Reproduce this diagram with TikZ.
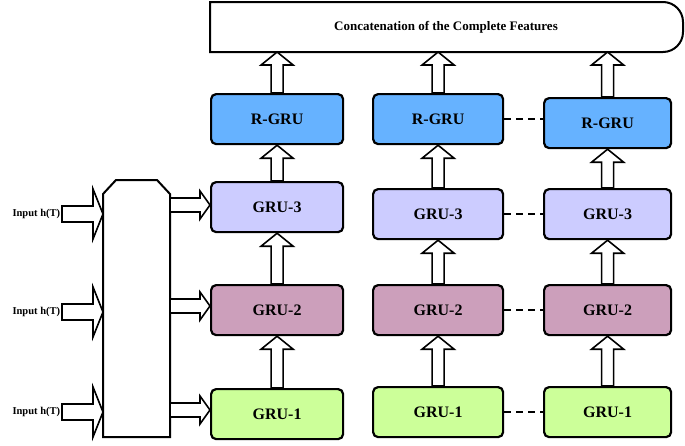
\documentclass[tikz,border=0pt]{standalone}
\usepackage{fontspec}
\setmainfont{Liberation Serif}
\usetikzlibrary{calc}
\definecolor{rg}{HTML}{66B2FF}
\definecolor{g3}{HTML}{CCCCFF}
\definecolor{g2}{HTML}{CC9FBB}
\definecolor{g1}{HTML}{CCFF99}
\begin{document}
\begin{tikzpicture}[x=1pt,y=-1pt,line width=1.8pt,
  box/.style={draw,line width=2.2pt,rounded corners=5pt,font=\bfseries\fontsize{16}{18}\selectfont},
  dsh/.style={dash pattern=on 7pt off 5pt,line width=2.4pt},
  barrow/.style={draw,fill=white,line width=1.6pt,line join=miter}]
\useasboundingbox (0,0) rectangle (685,445);
% top box
\draw[line width=2pt] (210,2) -- (663,2) arc[start angle=90,end angle=0,radius=20pt] -- (683,32) arc[start angle=0,end angle=-90,radius=20pt] -- (210,52) -- cycle;
\node[font=\bfseries\fontsize{13}{15}\selectfont] (top) at (446,27) {Concatenation of the Complete Features};
\coordinate (topb1) at (276,52);
\coordinate (topb2) at (437,52);
\coordinate (topb3) at (605,52);
\newcommand\gbox[6]{\node[box,fill=#2,minimum width=#4pt,minimum height=50pt,anchor=north west] (#1) at (#5,#6) {#3};}
\gbox{r1}{rg}{R-GRU}{132}{210}{93}
\gbox{c1}{g3}{GRU-3}{132}{210}{181}
\gbox{b1}{g2}{GRU-2}{132}{210}{284}
\gbox{a1}{g1}{GRU-1}{132}{210}{388}
\gbox{r2}{rg}{R-GRU}{130}{372}{93}
\gbox{c2}{g3}{GRU-3}{130}{372}{188}
\gbox{b2}{g2}{GRU-2}{130}{372}{284}
\gbox{a2}{g1}{GRU-1}{130}{372}{386}
\gbox{r3}{rg}{R-GRU}{127}{543}{97}
\gbox{c3}{g3}{GRU-3}{127}{543}{188}
\gbox{b3}{g2}{GRU-2}{127}{543}{284}
\gbox{a3}{g1}{GRU-1}{127}{543}{386}
\foreach \rw in {r,c,b,a}{\draw[dsh] (\rw2.east) -- (\rw3.west |- \rw2.east);}
\newcommand\uparr[2]{\path[barrow] let \p1=#1,\p2=#2 in
 (\x1-6pt,\y1) -- (\x1-6pt,\y2-13pt) -- (\x1-16pt,\y2-13pt) -- (\x1,\y2) -- (\x1+16pt,\y2-13pt) -- (\x1+6pt,\y2-13pt) -- (\x1+6pt,\y1) -- cycle;}
\foreach \c in {1,2,3}{
 \uparr{(a\c.north)}{(b\c.south)}
 \uparr{(b\c.north)}{(c\c.south)}
 \uparr{(c\c.north)}{(r\c.south)}
 \uparr{(r\c.north)}{(topb\c)}
}
% tall box
\draw[line width=2pt] (103,437) -- (103,194) -- (116,180) -- (157,180) -- (170,194) -- (170,437) -- cycle;
\newcommand\rarr[4]{\path[barrow] let \p1=#1,\p2=#2 in
 (\x1,\y1-#4pt) -- (\x2-10pt,\y1-#4pt) -- (\x2-10pt,\y1-#3pt) -- (\x2,\y1) -- (\x2-10pt,\y1+#3pt) -- (\x2-10pt,\y1+#4pt) -- (\x1,\y1+#4pt) -- cycle;}
\node[font=\bfseries\fontsize{10.5}{12}\selectfont,anchor=east,inner sep=1pt] (in3) at (62,214) {Input h(T)};
\node[font=\bfseries\fontsize{10.5}{12}\selectfont,anchor=east,inner sep=1pt] (in2) at (62,312) {Input h(T)};
\node[font=\bfseries\fontsize{10.5}{12}\selectfont,anchor=east,inner sep=1pt] (in1) at (62,412) {Input h(T)};
\coordinate (ie3) at (103,214);
\coordinate (ie2) at (103,312);
\coordinate (ie1) at (103,412);
\rarr{(in3.east)}{(ie3)}{25}{8}
\rarr{(in2.east)}{(ie2)}{25}{8}
\rarr{(in1.east)}{(ie1)}{25}{8}
\coordinate (o3) at (170,205);
\coordinate (o2) at (170,306);
\coordinate (o1) at (170,410);
\coordinate (e3) at (210,205);
\coordinate (e2) at (210,306);
\coordinate (e1) at (210,410);
\rarr{(o3)}{(e3)}{14}{7}
\rarr{(o2)}{(e2)}{14}{7}
\rarr{(o1)}{(e1)}{14}{7}
\end{tikzpicture}
\end{document}
